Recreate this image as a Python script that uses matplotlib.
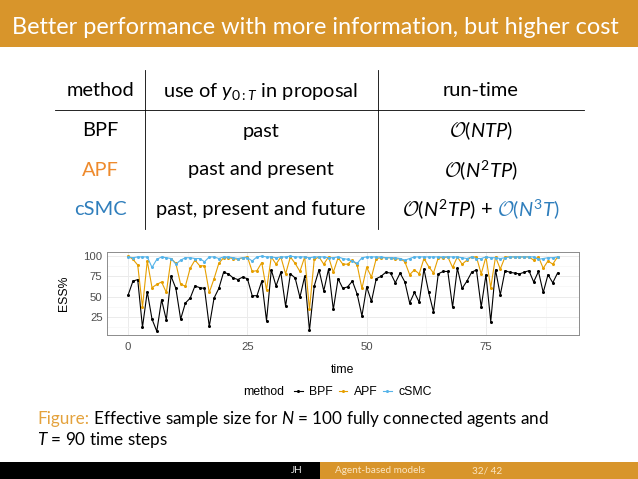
import numpy as np
import matplotlib
matplotlib.use("Agg")
import matplotlib.pyplot as plt
from matplotlib.lines import Line2D
from matplotlib.patches import Rectangle

# ---------------- data ----------------
time = list(range(91))
bpf = [52, 69, 71, 12, 56, 22, 7, 46, 21, 75, 60, 22, 42, 48, 63, 61, 60, 13, 48, 60,
       80, 78, 73, 71, 74, 72, 51, 51, 69, 20, 83, 63, 80, 38, 78, 73, 49, 75, 8, 63,
       83, 57, 84, 34, 72, 60, 62, 69, 53, 26, 62, 44, 72, 75, 80, 79, 67, 79, 68, 42,
       55, 43, 84, 55, 31, 78, 81, 81, 37, 85, 60, 69, 80, 83, 37, 77, 19, 83, 52, 82,
       80, 79, 78, 80, 82, 68, 81, 55, 77, 67, 79]
apf = [100, 96, 89, 37, 94, 61, 65, 68, 55, 97, 91, 65, 63, 85, 95, 88, 88, 55, 72, 91,
       98, 98, 97, 96, 98, 99, 81, 82, 92, 58, 99, 90, 99, 78, 99, 91, 81, 99, 34, 96,
       99, 90, 99, 80, 98, 90, 90, 95, 89, 60, 86, 74, 97, 98, 98, 98, 96, 97, 93, 77,
       83, 78, 97, 87, 79, 98, 98, 99, 86, 99, 90, 95, 99, 99, 78, 99, 61, 99, 84, 99,
       99, 99, 99, 99, 99, 95, 99, 85, 94, 90, 99]
csmc = [99, 98, 99, 99, 99, 86, 96, 99, 98, 97, 90, 95, 98, 98, 97, 97, 93, 99, 99, 97,
        99, 99, 98, 97, 98, 98, 94, 99, 100, 99, 99, 98, 99, 99, 100, 99, 99, 99, 98, 99,
        99, 99, 98, 98, 99, 97, 96, 94, 91, 98, 99, 99, 99, 99, 98, 98, 98, 97, 95, 97,
        99, 99, 99, 99, 99, 99, 99, 99, 99, 99, 98, 97, 99, 97, 97, 99, 98, 98, 97, 98,
        99, 99, 99, 99, 99, 99, 96, 97, 98, 98, 99]
methods = ["BPF", "APF", "cSMC"]
series = [bpf, apf, csmc]
series_colors = ["#000000", "#E69F00", "#56B4E9"]
x_ticks = [0, 25, 50, 75]
y_ticks = [25, 50, 75, 100]

title = "Better performance with more information, but higher cost"
table_header = ["method", r"use of $y_{0:T}$ in proposal", "run-time"]
table_methods = ["BPF", "APF", "cSMC"]
table_method_colors = ["#000000", "#EE8A2C", "#2F7EBC"]
table_use = ["past", "past and present", "past, present and future"]
table_runtime = [r"$\mathcal{O}(NTP)$", r"$\mathcal{O}(N^2TP)$", r"$\mathcal{O}(N^2TP)$"]
runtime_plus = "+"
runtime_extra = r"$\mathcal{O}(N^3T)$"
caption_label = "Figure:"
caption_1 = r" Effective sample size for $N$ = 100 fully connected agents and"
caption_2 = r"$T$ = 90 time steps"
footer_author = "JH"
footer_title = "Agent-based models"
footer_page = "32/ 42"

# ---------------- setup ----------------
W, H = 638, 479
plt.rcParams["mathtext.fontset"] = "custom"
plt.rcParams["mathtext.rm"] = "Lato"
plt.rcParams["mathtext.it"] = "Lato:italic"
plt.rcParams["mathtext.cal"] = "cmsy10"
SLIDE_FONT = "Lato"
PLOT_FONT = "Liberation Sans"
ORANGE = "#D8952B"

fig = plt.figure(figsize=(W / 100, H / 100), dpi=100)
fig.patch.set_facecolor("white")
renderer = fig.canvas.get_renderer()


def fx(x):
    return x / W


def fy(y):
    return 1 - y / H


def width_px(t):
    return t.get_window_extent(renderer).width


def fit(t, target):
    t.set_fontsize(t.get_fontsize() * target / width_px(t))


# title bar
fig.patches.append(Rectangle((0, fy(47)), 1, 47 / H, transform=fig.transFigure,
                             facecolor=ORANGE, edgecolor="none"))
tt = fig.text(fx(12), fy(27), title, color="white", ha="left", va="center",
              family=SLIDE_FONT, fontsize=16)
fit(tt, 610)

# ---------------- table ----------------
col_x = [100, 261, 481]
row_y = [91, 131, 170, 209]
ref = fig.text(0, 0, "past, present and future", family=SLIDE_FONT, fontsize=12)
fit(ref, 209)
fs_tab = ref.get_fontsize()
ref.remove()

for j, s in enumerate(table_header):
    fig.text(fx(col_x[j]), fy(row_y[0]), s, ha="center", va="center",
             family=SLIDE_FONT, fontsize=fs_tab)
for i in range(3):
    y = fy(row_y[i + 1])
    fig.text(fx(col_x[0]), y, table_methods[i], ha="center", va="center",
             family=SLIDE_FONT, fontsize=fs_tab, color=table_method_colors[i])
    fig.text(fx(col_x[1]), y, table_use[i], ha="center", va="center",
             family=SLIDE_FONT, fontsize=fs_tab)
    if i < 2:
        fig.text(fx(col_x[2]), y, table_runtime[i], ha="center", va="center",
                 family=SLIDE_FONT, fontsize=fs_tab)
    else:
        a = fig.text(0, y, table_runtime[i], ha="left", va="center",
                     family=SLIDE_FONT, fontsize=fs_tab)
        p = fig.text(0, y, runtime_plus, ha="left", va="center",
                     family=SLIDE_FONT, fontsize=fs_tab)
        b = fig.text(0, y, runtime_extra, ha="left", va="center",
                     family=SLIDE_FONT, fontsize=fs_tab, color=table_method_colors[2])
        gap = 5
        wa, wp, wb = width_px(a), width_px(p), width_px(b)
        x0 = col_x[2] - (wa + wp + wb + 2 * gap) / 2
        a.set_x(fx(x0))
        p.set_x(fx(x0 + wa + gap))
        b.set_x(fx(x0 + wa + wp + 2 * gap))

fig.add_artist(Line2D([fx(55), fx(584)], [fy(110), fy(110)], color="black", lw=0.6,
                      transform=fig.transFigure))
for vx in (144.5, 377.5):
    fig.add_artist(Line2D([fx(vx), fx(vx)], [fy(70), fy(229)], color="black", lw=0.6,
                          transform=fig.transFigure))

# ---------------- plot ----------------
left, right, top, bottom = 106.7, 579, 252.3, 335
ax = fig.add_axes([fx(left), fy(bottom), (right - left) / W, (bottom - top) / H])
handles = []
for name, vals, c in zip(methods, series, series_colors):
    h, = ax.plot(time, vals, color=c, lw=0.8, marker="o", markersize=2.2,
                 markeredgewidth=0, label=name)
    handles.append(h)
ax.set_xlim(-4.5, 94.5)
ax.set_ylim(2.4, 104.7)
ax.set_xticks(x_ticks)
ax.set_yticks(y_ticks)
ax.set_xticks([12.5, 37.5, 62.5, 87.5], minor=True)
ax.set_yticks([12.5, 37.5, 62.5, 87.5], minor=True)
ax.grid(which="major", color="#EBEBEB", lw=0.7)
ax.grid(which="minor", color="#F4F4F4", lw=0.4)
ax.set_axisbelow(True)
for sp in ax.spines.values():
    sp.set_color("#8C8C8C")
    sp.set_linewidth(0.7)
ax.tick_params(which="both", length=0, labelsize=8.2, labelcolor="#4D4D4D")
ax.tick_params(axis="x", pad=5)
ax.tick_params(axis="y", pad=3)
for lab in ax.get_xticklabels() + ax.get_yticklabels():
    lab.set_family(PLOT_FONT)
ax.set_xlabel("time", family=PLOT_FONT, fontsize=8.8, labelpad=9)
ax.set_ylabel("ESS%", family=PLOT_FONT, fontsize=8.8, labelpad=10)

# legend
fig.text(fx(243), fy(392), "method", ha="left", va="center", family=PLOT_FONT,
         fontsize=8.8)
leg = fig.legend(handles=handles, loc="center left", bbox_to_anchor=(fx(288), fy(392)),
                 ncol=3, frameon=False, handlelength=0.7, handletextpad=0.55,
                 columnspacing=0.45, borderpad=0, prop={"family": PLOT_FONT, "size": 8.8})

# ---------------- caption ----------------
c1 = fig.text(fx(37), fy(419), caption_label, ha="left", va="center",
              family=SLIDE_FONT, fontsize=12, color="#E4A23C")
c2 = fig.text(0, fy(419), caption_1, ha="left", va="center", family=SLIDE_FONT,
              fontsize=12)
total = width_px(c1) + width_px(c2)
scale = 511 / total
c1.set_fontsize(12 * scale)
c2.set_fontsize(12 * scale)
c2.set_x(fx(37 + width_px(c1)))
fig.text(fx(37), fy(440), caption_2, ha="left", va="center", family=SLIDE_FONT,
         fontsize=12 * scale)

# ---------------- footer ----------------
fig.patches.append(Rectangle((0, 0), fx(320), 17 / H, transform=fig.transFigure,
                             facecolor="black", edgecolor="none"))
fig.patches.append(Rectangle((fx(320), 0), 1 - fx(320), 17 / H, transform=fig.transFigure,
                             facecolor=ORANGE, edgecolor="none"))
fig.text(fx(303), fy(470.5), footer_author, ha="right", va="center", color="#E8E8E8",
         family=SLIDE_FONT, fontsize=7.2)
fig.text(fx(335), fy(470.5), footer_title, ha="left", va="center", color="#FBE6C4",
         family=SLIDE_FONT, fontsize=7.2)
fig.text(fx(472), fy(470.5), footer_page, ha="left", va="center", color="#FBE6C4",
         family=SLIDE_FONT, fontsize=7.2)

fig.savefig("out.png", dpi=100)
